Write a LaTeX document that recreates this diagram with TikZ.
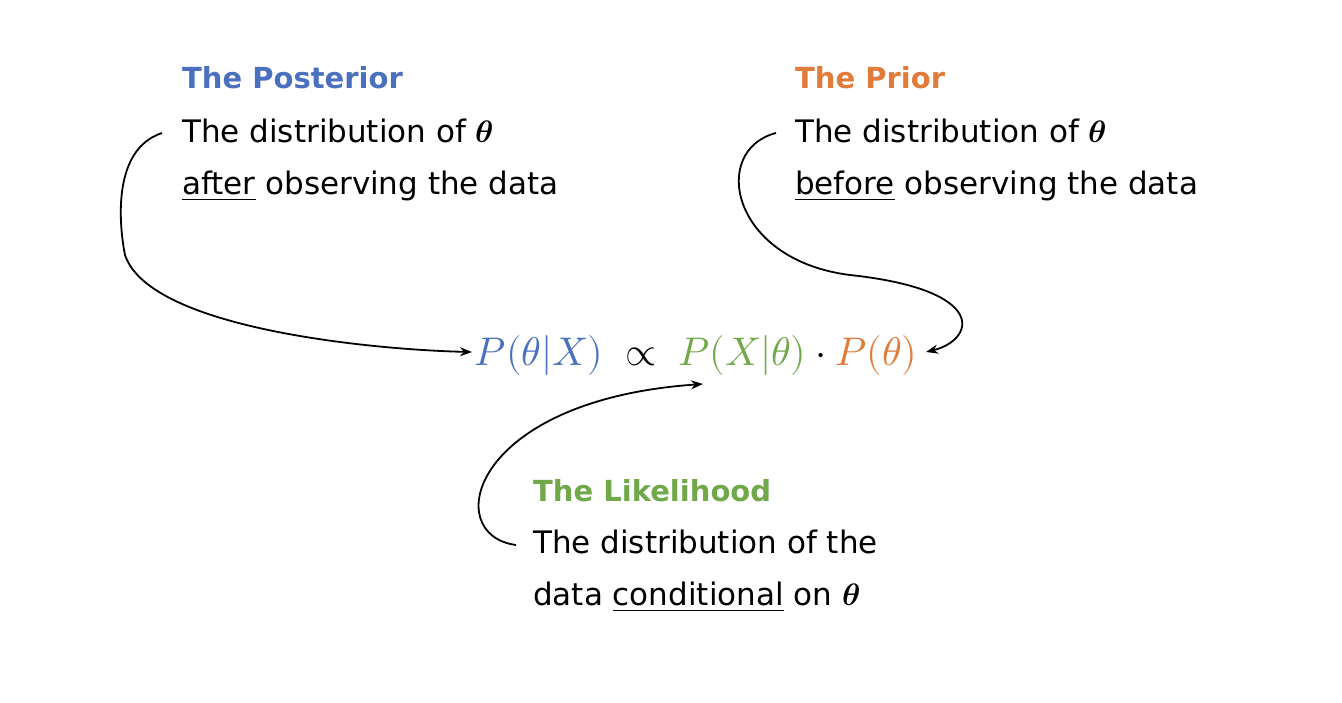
\documentclass[tikz,border=0pt]{standalone}
\usepackage{fontspec}
\setmainfont{DejaVu Sans}
\usepackage{unicode-math}
\setmathfont{Latin Modern Math}
\usetikzlibrary{arrows.meta}
\definecolor{cblue}{HTML}{4A70BF}
\definecolor{corange}{HTML}{E07B39}
\definecolor{cgreen}{HTML}{70A84A}
\begin{document}
\begin{tikzpicture}[x=1pt,y=-1pt,
  head/.style={anchor=west,font=\fontsize{29}{30}\selectfont\bfseries,inner sep=0},
  body/.style={anchor=west,font=\fontsize{31}{52}\selectfont,inner sep=0,align=left},
  conn/.style={-{Stealth[length=12pt,width=9pt]},line width=1.8pt}]
\useasboundingbox (0,0) rectangle (1342,702);
\node[head,text=cblue] (ph) at (182,78) {The Posterior};
\node[body] (pb) at (182,160) {The distribution of $\symbf{\theta}$\\\underline{after} observing the data};
\node[head,text=corange] (rh) at (795,78) {The Prior};
\node[body] (rb) at (795,160) {The distribution of $\symbf{\theta}$\\\underline{before} observing the data};
\node[head,text=cgreen] (lh) at (533,491) {The Likelihood};
\node[body] (lb) at (533,571) {The distribution of the\\data \underline{conditional} on $\symbf{\theta}$};
\node[inner sep=0,font=\fontsize{40}{40}\selectfont] (eq) at (696,355)
 {$\color{cblue}P(\theta|X)\;\color{black}\propto\;\color{cgreen}P(X|\theta)\color{black}\cdot\color{corange}P(\theta)$};
\coordinate (ps) at (162,133);
\coordinate (rs) at (776,133);
\coordinate (ls) at (516,545);
\coordinate (pe) at (472,352);
\coordinate (re) at (926,352);
\coordinate (le) at (703,384);
\draw[conn] (ps) .. controls (110,150) and (120,230) .. (125,255) .. controls (150,330) and (380,350) .. (pe);
\draw[conn] (rs) .. controls (710,150) and (730,260) .. (850,275) .. controls (990,290) and (975,340) .. (re);
\draw[conn] (ls) .. controls (440,535) and (470,400) .. (le);
\end{tikzpicture}
\end{document}
